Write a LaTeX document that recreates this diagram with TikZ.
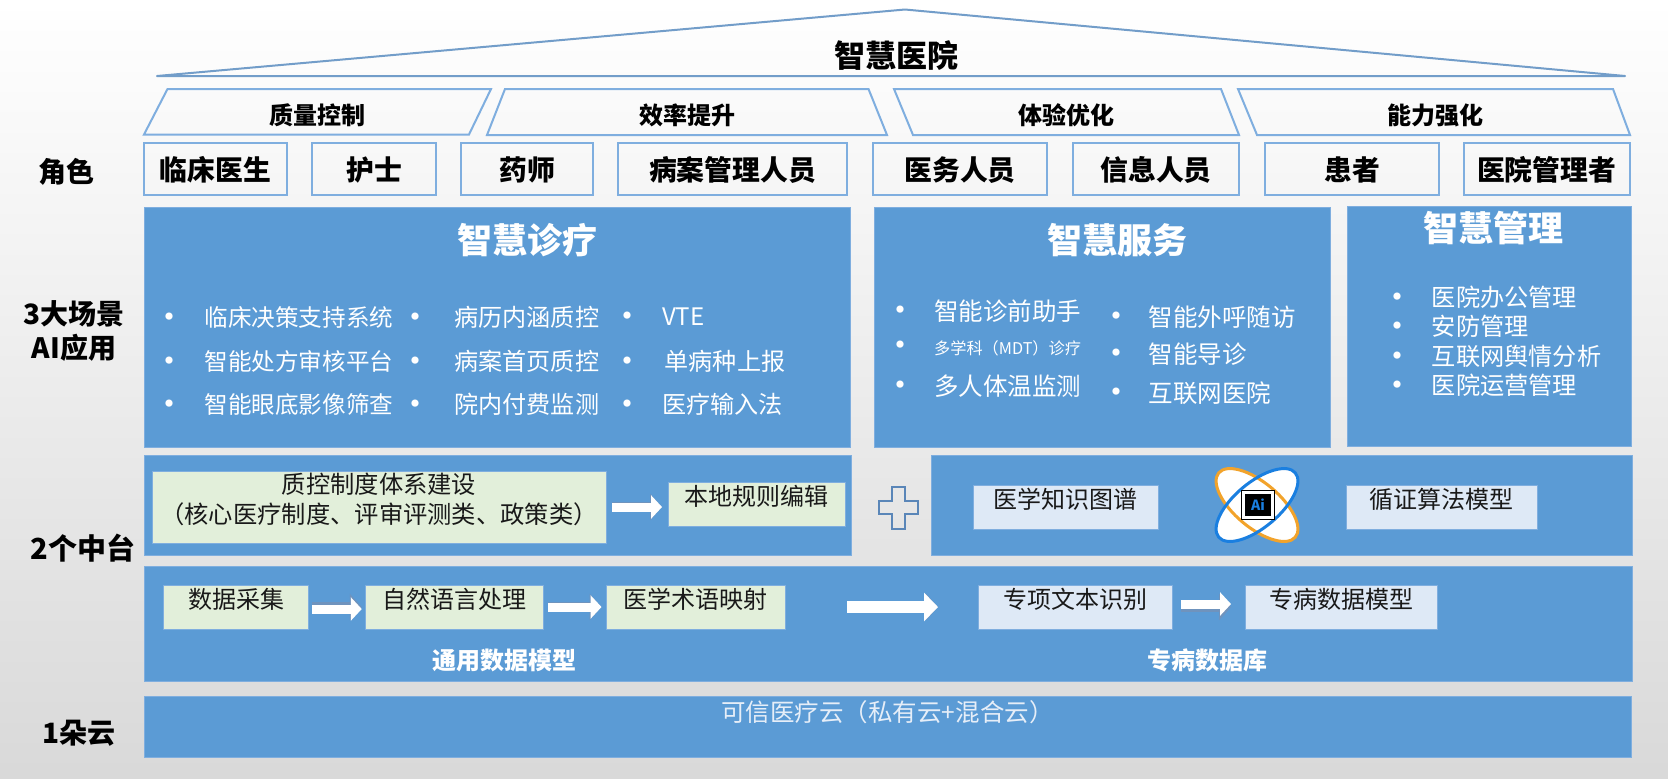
\documentclass[tikz,border=0pt]{standalone}
\usepackage{fontspec}
\setmainfont{Noto Sans CJK SC}
\usetikzlibrary{positioning, arrows.meta, shapes.geometric}
\definecolor{panelblue}{HTML}{5B9BD5}
\definecolor{edgeblue}{HTML}{7FAEDF}
\definecolor{arrowedge}{HTML}{6F93BD}
\definecolor{plusedge}{HTML}{5A86B8}
\definecolor{palegreen}{HTML}{E2EFDA}
\definecolor{paleblue}{HTML}{DEE9F6}
\definecolor{cloudtext}{HTML}{E6EEF8}
\definecolor{orbitorange}{HTML}{F2A32B}
\definecolor{orbitblue}{HTML}{1A7FE0}
\newcommand{\fsize}[1]{\fontsize{#1}{#1}\selectfont}
\newcommand{\bul}[1][26.8pt]{\makebox[#1][l]{\raisebox{-1.3pt}{\fsize{17}•}}}
\tikzset{
	rowlabel/.style={font=\fsize{14}\bfseries, text=black, align=center, inner sep=0pt},
	goal/.style={font=\fsize{12}\bfseries, text=black, inner sep=0pt},
	rolebox/.style={draw=edgeblue, line width=1pt, outer sep=0pt, minimum height=26pt, inner sep=0pt, font=\fsize{13.9}\bfseries, text height=12.5pt, text depth=0.7pt},
	panel/.style={fill=panelblue, draw=edgeblue, line width=0.5pt, inner sep=0pt, outer sep=0pt},
	paneltitle/.style={font=\fsize{17.5}\bfseries, text=white, inner sep=0pt},
	item/.style={font=\fsize{11.8}, text=white, anchor=west, inner sep=0pt},
	clinicitem/.style={item, font=\fsize{12.05}},
	serviceitem/.style={item, font=\fsize{12.25}},
	manageitem/.style={item, font=\fsize{12.1}},
	subbox/.style={draw=edgeblue, line width=0.4pt, inner sep=0pt, outer sep=0pt, minimum height=22pt, font=\fsize{12}, text=black!90, text height=9pt, text depth=8pt},
	greenbox/.style={subbox, fill=palegreen},
	bluebox/.style={subbox, fill=paleblue},
	bandlabel/.style={font=\fsize{12}\bfseries, text=white, inner sep=0pt},
	blockarrow/.style={draw=white, line width=4.5pt, -{Triangle[length=5.5pt,width=11.5pt]}, shorten <=#1, shorten >=#1,
		preaction={draw=arrowedge, line width=5.4pt, -{Triangle[length=6pt,width=13pt]}}},
	orbit/.style={ellipse, inner sep=0pt, minimum width=50pt, minimum height=22.4pt, line width=1.5pt}
}
\begin{document}
\begin{tikzpicture}[x=0.5pt, y=-0.5pt]
	\useasboundingbox (0,0) rectangle (1668,778);
	\fill [top color=white, middle color=white!94!black, bottom color=white!85!black] (0,0) rectangle (1668,778);

	\draw [edgeblue!90!black, line width=1pt, line join=round] (157,76) -- (905,9.5) -- (1625,76) -- cycle;
	\node (title) [font=\fsize{15.5}\bfseries, inner sep=0pt] at (896,55.5) {智慧医院};

	\draw [edgeblue, line width=1pt] (167.5,89) -- (491,89) -- (469,134.5) -- (144,134.5) -- cycle;
	\draw [edgeblue, line width=1pt] (505,89) -- (868.5,89) -- (887,135) -- (487,135) -- cycle;
	\draw [edgeblue, line width=1pt] (894,89) -- (1221,89) -- (1239,135) -- (913,135) -- cycle;
	\draw [edgeblue, line width=1pt] (1238,89) -- (1613,89) -- (1630,135) -- (1257,135) -- cycle;
	\node (goal1) [goal] at (317,115) {质量控制};
	\node (goal2) [goal] at (687,115) {效率提升};
	\node (goal3) [goal] at (1066,115) {体验优化};
	\node (goal4) [goal] at (1435,115) {能力强化};

	\node (rolerow) [rowlabel] at (66,172) {角色};
	\node (role1) [rolebox, minimum width=71.5pt] at (215.5,169) {临床医生};
	\node (role2) [rolebox, minimum width=62pt, right=12.5pt of role1] {护士};
	\node (role3) [rolebox, minimum width=66pt, right=12.5pt of role2] {药师};
	\node (role4) [rolebox, minimum width=114.5pt, right=12.5pt of role3] {病案管理人员};
	\node (role5) [rolebox, minimum width=87pt, right=13pt of role4] {医务人员};
	\node (role6) [rolebox, minimum width=83pt, right=13pt of role5] {信息人员};
	\node (role7) [rolebox, minimum width=87pt, right=13pt of role6] {患者};
	\node (role8) [rolebox, minimum width=83pt, right=12.25pt of role7] {医院管理者};

	\node (scenerow) [rowlabel] at (74,331) {3大场景\\[3pt]AI应用};
	\node (clinic) [panel, minimum width=353pt, minimum height=120pt] at (497,327) {};
	\node (service) [panel, minimum width=228pt, minimum height=120pt] at (1102,327) {};
	\node (manage) [panel, minimum width=142pt, minimum height=120pt] at (1489,326) {};
	\node (clinictitle) [paneltitle] at (527,240) {智慧诊疗};
	\node (servicetitle) [paneltitle] at (1117,240) {智慧服务};
	\node (managetitle) [paneltitle] at (1493,228) {智慧管理};

	\node (c1) [item] at (151.7,318) {\bul[23.6pt] 临床决策支持系统};
	\node (c2) [item] at (151.7,362) {\bul[23.6pt] 智能处方审核平台};
	\node (c3) [item] at (151.7,405) {\bul[23.6pt] 智能眼底影像筛查};
	\node (c4) [clinicitem] at (397.7,318) {\bul[25.5pt] 病历内涵质控};
	\node (c5) [clinicitem] at (397.7,362) {\bul[25.5pt] 病案首页质控};
	\node (c6) [clinicitem] at (397.7,405) {\bul[25.5pt] 院内付费监测};
	\node (c7) [clinicitem] at (609.7,318) {\bul[23.3pt] VTE};
	\node (c8) [clinicitem] at (609.7,362) {\bul[24.6pt] 单病种上报};
	\node (c9) [clinicitem] at (609.7,405) {\bul[23.4pt] 医疗输入法};

	\node (s1) [serviceitem] at (882.7,311) {\bul[22.8pt] 智能诊前助手};
	\node (s2) [serviceitem] at (882.7,349) {\bul[25.5pt]{\fsize{8.1}多学科（MDT）诊疗}};
	\node (s3) [serviceitem] at (882.7,386) {\bul[22.8pt] 多人体温监测};
	\node (s4) [serviceitem] at (1098.7,317) {\bul[22.1pt] 智能外呼随访};
	\node (s5) [serviceitem] at (1098.7,354) {\bul[22.1pt] 智能导诊};
	\node (s6) [serviceitem] at (1098.7,393) {\bul[22.1pt] 互联网医院};

	\node (m1) [manageitem] at (1380,298) {\bul[23pt] 医院办公管理};
	\node (m2) [manageitem] at (1380,327) {\bul[23pt] 安防管理};
	\node (m3) [manageitem] at (1380,357) {\bul[23pt] 互联网舆情分析};
	\node (m4) [manageitem] at (1380,386) {\bul[23pt] 医院运营管理};

	\node (platrow) [rowlabel, font=\fsize{14.5}\bfseries] at (83,548) {2个中台};
	\node (qcband) [panel, minimum width=353.75pt, minimum height=50pt] at (497.75,505) {};
	\node (kgband) [panel, minimum width=350.5pt, minimum height=50pt] at (1281.5,505) {};
	\node (qcsys) [greenbox, minimum width=227pt, minimum height=36pt, align=center, font=\fsize{12.15}, text height=24pt, text depth=7.5pt] at (379,507) {质控制度体系建设\\[3pt]（核心医疗制度、评审评测类、政策类）};
	\node (rule) [greenbox, minimum width=88.5pt] at (756.5,504) {本地规则编辑};
	\draw [plusedge, line width=1pt] (892,487) -- (905,487) -- (905,501) -- (918,501) -- (918,514) -- (905,514) -- (905,529) -- (892,529) -- (892,514) -- (879,514) -- (879,501) -- (892,501) -- cycle;
	\node (graph) [bluebox, minimum width=92.5pt] at (1065.5,507) {医学知识图谱};
	\node (evidence) [bluebox, minimum width=95.5pt] at (1441.5,507) {循证算法模型};

	\node (orbitbg) [orbit, rotate=40, fill=white] at (1257,505) {};
	\node (orbit1) [orbit, rotate=-40, draw=orbitorange, fill=white] at (1257,505) {};
	\node (orbit2) [orbit, rotate=40, draw=orbitblue] at (1257,505) {};
	\node (aiframe) [draw=black, fill=white, line width=0.6pt, inner sep=0pt, minimum width=16.5pt, minimum height=14.5pt] at (1258,505) {};
	\node (aitext) [fill=black, text=orbitblue, font=\fsize{7}\bfseries, inner sep=0pt, minimum width=13pt, minimum height=11pt] at (1258,505) {Ai};

	\node (databand) [panel, minimum width=744pt, minimum height=57.5pt] at (888,623.5) {};
	\node (d1) [greenbox, minimum width=72.25pt] at (236,607) {数据采集};
	\node (d2) [greenbox, minimum width=89.25pt] at (454.5,607) {自然语言处理};
	\node (d3) [greenbox, minimum width=89.5pt] at (695.5,607) {医学术语映射};
	\node (d4) [bluebox, minimum width=97pt] at (1075,607) {专项文本识别};
	\node (d5) [bluebox, minimum width=96pt] at (1341,607) {专病数据模型};
	\node (commonlabel) [bandlabel] at (504,660.5) {通用数据模型};
	\node (speciallabel) [bandlabel] at (1207,660.5) {专病数据库};

	\node (cloudrow) [rowlabel] at (79,733) {1朵云};
	\node (cloudband) [panel, minimum width=743.5pt, minimum height=30.5pt] at (887.5,726.5) {};
	\node (cloudtxt) [font=\fsize{12.25}, text=cloudtext, inner sep=0pt] at (887.5,712) {可信医疗云（私有云+混合云）};

	\path
		(qcsys.east) edge [blockarrow=3pt] (qcsys.east -| rule.west)
		(d1) edge [blockarrow=1.75pt, transform canvas={yshift=-1pt}] (d2)
		(d2) edge [blockarrow=2.25pt] (d3)
		(d3) edge [blockarrow=2pt, shorten <=31pt, shorten >=20pt, line width=6pt, -{Triangle[length=7pt,width=14pt]}] (d4)
		(d4) edge [blockarrow=4.5pt, shorten >=7pt, transform canvas={yshift=1.5pt}] (d5)
	;
\end{tikzpicture}
\end{document}
